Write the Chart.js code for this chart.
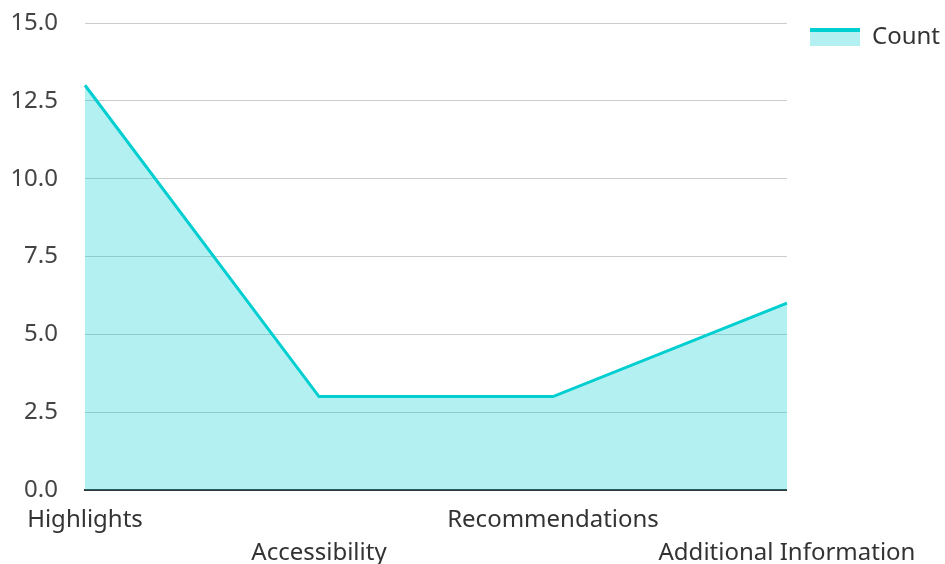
<!DOCTYPE html>
<html>
<head>
<meta charset="utf-8">
<script src="https://cdn.jsdelivr.net/npm/chart.js@4"></script>
<style>
  html, body { margin: 0; padding: 0; background: #fff; }
  #wrap { width: 945px; height: 564px; }
</style>
</head>
<body>
<div id="wrap"><canvas id="chart" width="945" height="564"></canvas></div>
<script>
const categories = ["Highlights", "Accessibility", "Recommendations", "Additional Information"];
const countValues = [13, 3, 3, 6];
const seriesName = "Count";

const lineColor = "#00CED1";
const fillColor = "rgba(0, 206, 209, 0.3)";

// legend swatch: thick line on top, light fill under it (left part left empty as a gap)
const swatch = document.createElement("canvas");
swatch.width = 63;
swatch.height = 18;
const sctx = swatch.getContext("2d");
sctx.fillStyle = fillColor;
sctx.fillRect(13, 0, 50, 18);
sctx.fillStyle = lineColor;
sctx.fillRect(13, 0, 50, 4);

Chart.defaults.font.family = "'Noto Sans', 'Open Sans', sans-serif";
Chart.defaults.color = "#444";

new Chart(document.getElementById("chart").getContext("2d"), {
  type: "line",
  data: {
    labels: categories,
    datasets: [{
      label: seriesName,
      data: countValues,
      borderColor: lineColor,
      backgroundColor: fillColor,
      borderWidth: 3,
      fill: "origin",
      tension: 0,
      pointRadius: 0,
      pointStyle: swatch,
    }],
  },
  options: {
    responsive: false,
    animation: false,
    layout: { padding: { top: 0, left: 0, bottom: 0, right: -5 } },
    plugins: {
      legend: {
        position: "right",
        align: "start",
        title: { display: true, text: "", font: { size: 15, lineHeight: 1 }, padding: 0 },
        labels: {
          usePointStyle: true,
          pointStyleWidth: 63,
          boxHeight: 18,
          font: { size: 24 },
          color: "#333",
          padding: 10,
        },
      },
      tooltip: { enabled: false },
    },
    scales: {
      x: {
        grid: { display: false },
        border: { display: true, color: "#333", width: 2 },
        afterFit: (scale) => { scale.height = 74; },
        ticks: {
          autoSkip: false,
          maxRotation: 0,
          font: { size: 24, lineHeight: 1.36 },
          color: "#333",
          padding: 6,
          // staggered labels on two rows
          callback: function (value, index) {
            const label = this.getLabelForValue(value);
            return index % 2 === 0 ? [label, ""] : ["", label];
          },
        },
      },
      y: {
        min: 0,
        max: 15,
        grid: { color: "#cccccc", lineWidth: 1, drawTicks: false },
        border: { display: false },
        afterFit: (scale) => {
          scale.width = 85;
          scale.paddingTop = 23;
          scale.paddingBottom = 0;
        },
        ticks: {
          stepSize: 2.5,
          font: { size: 24 },
          color: "#444",
          padding: 27,
          callback: (v) => v.toFixed(1),
        },
      },
    },
  },
});
</script>
</body>
</html>
